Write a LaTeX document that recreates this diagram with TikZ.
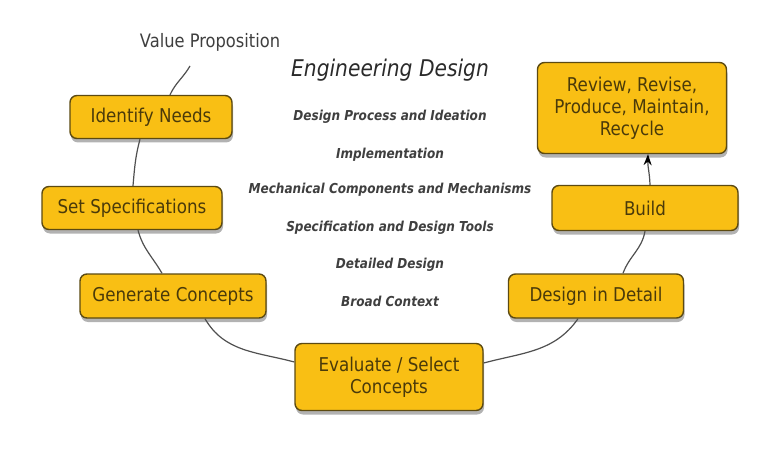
\documentclass[tikz,border=0pt]{standalone}
\usepackage{fontspec}
\setmainfont{DejaVu Sans}[FakeStretch=0.88]
\usetikzlibrary{shadows,arrows.meta}
\definecolor{boxfill}{HTML}{F9BF14}
\definecolor{boxdraw}{HTML}{5C4A12}
\definecolor{boxtext}{HTML}{4A3A0A}
\definecolor{linec}{HTML}{505050}
\definecolor{midtext}{HTML}{2A2A2A}
\begin{document}
\begin{tikzpicture}[x=1pt,y=1pt,
  stepbox/.style={draw=boxdraw, line width=1.4pt, fill=boxfill, rounded corners=7pt,
    text=boxtext, font=\fontsize{19}{22}\selectfont, align=center, inner sep=0pt,
    drop shadow={shadow xshift=1pt, shadow yshift=-4pt, opacity=0.3, fill=black}},
  conn/.style={draw=linec, line width=1.2pt},
  topic/.style={text=midtext!90, font=\fontsize{13.7}{16}\bfseries\itshape\selectfont},
  lbl/.style={text=midtext!90, font=\fontsize{18.5}{20}\selectfont}
]
\useasboundingbox[fill=white] (0,0) rectangle (768,-468);

% label
\node[lbl] (vp) at (210,-42) {Value Proposition};
\coordinate (vpend) at (190,-66);

% boxes
\node[stepbox, minimum width=162pt, minimum height=43pt] (idn) at (151,-117) {Identify Needs};
\node[stepbox, minimum width=180pt, minimum height=43pt] (ss) at (132,-208) {Set Specifications};
\node[stepbox, minimum width=186pt, minimum height=44pt] (gc) at (173,-296) {Generate Concepts};
\node[stepbox, minimum width=188pt, minimum height=67pt] (ev) at (389,-377) {Evaluate / Select\\Concepts};
\node[stepbox, minimum width=175pt, minimum height=44pt] (dd) at (596,-296) {Design in Detail};
\node[stepbox, minimum width=186pt, minimum height=45pt] (bu) at (645,-208) {Build};
\node[stepbox, minimum width=189pt, minimum height=91pt] (rv) at (632,-108) {Review, Revise,\\Produce, Maintain,\\Recycle};

% centre texts
\node[text=midtext, font=\fontsize{23}{25}\itshape\selectfont] (title) at (390,-70) {Engineering Design};
\node[topic] (t1) at (390,-117) {Design Process and Ideation};
\node[topic] (t2) at (390,-155) {Implementation};
\node[topic] (t3) at (390,-190) {Mechanical Components and Mechanisms};
\node[topic] (t4) at (390,-228) {Specification and Design Tools};
\node[topic] (t5) at (390,-265) {Detailed Design};
\node[topic] (t6) at (390,-301) {Broad Context};

% connectors
\draw[conn] (vpend) to[out=240,in=65] ([xshift=19pt]idn.north);
\draw[conn] ([xshift=-11pt]idn.south) to[out=255,in=85] ([xshift=1pt]ss.north);
\draw[conn] ([xshift=6pt]ss.south) to[out=285,in=120] ([xshift=-11pt]gc.north);
\draw[conn] ([xshift=32pt]gc.south) to[out=300,in=165] ([yshift=15pt]ev.west);
\draw[conn] ([yshift=14pt]ev.east) to[out=15,in=235] ([xshift=-18pt]dd.south);
\draw[conn] ([xshift=27pt]dd.north) to[out=70,in=260] ([xshift=0pt]bu.south);
\draw[conn, -{Stealth[length=11pt,width=8pt,color=black]}] ([xshift=5pt]bu.north) to[out=92,in=268] ([xshift=16pt]rv.south);
\end{tikzpicture}
\end{document}
